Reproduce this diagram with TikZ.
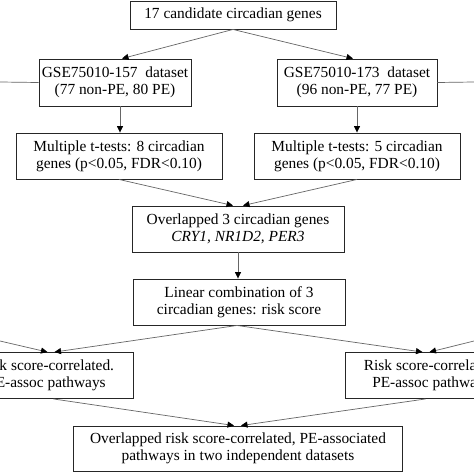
\documentclass[tikz,border=0pt]{standalone}
\usepackage{fontspec}
\setmainfont{Liberation Serif}
\usetikzlibrary{arrows.meta}
\tikzset{
  box/.style={draw=black!85, line width=0.9pt, fill=white, align=center, inner sep=0pt,
    font=\fontsize{15.4}{17}\selectfont},
  conn/.style={draw=black!60, line width=0.7pt, -{Triangle[length=6.5pt,width=6pt,fill=black,color=black]}},
  plain/.style={draw=black!60, line width=0.7pt}
}
\begin{document}
\begin{tikzpicture}[x=1pt,y=-1pt]
\useasboundingbox (0,0) rectangle (474,474);
\fill[white] (0,0) rectangle (474,474);
\clip (0,0) rectangle (474,474);
\node[box, minimum width=206pt, minimum height=28pt] (A) at (233,15) {17 candidate circadian genes};
\node[box, minimum width=152pt, minimum height=47pt] (B1) at (115,82.5) {GSE75010-157\ \ dataset\\(77 non-PE, 80 PE)};
\node[box, minimum width=160pt, minimum height=47pt] (B2) at (357,82.5) {GSE75010-173\ \ dataset\\(96 non-PE, 77 PE)};
\node[box, minimum width=206pt, minimum height=46pt] (C1) at (119,156) {Multiple t-tests: 8 circadian\\genes (p<0.05, FDR<0.10)};
\node[box, minimum width=206pt, minimum height=46pt] (C2) at (357,156) {Multiple t-tests: 5 circadian\\genes (p<0.05, FDR<0.10)};
\node[box, minimum width=212pt, minimum height=46pt] (D) at (238,229) {Overlapped 3 circadian genes\\\textit{CRY1, NR1D2, PER3}};
\node[box, minimum width=212pt, minimum height=46pt] (E) at (239,302) {Linear combination of 3\\circadian genes: risk score};
\node[box, minimum width=173pt, minimum height=46pt] (F1) at (46.5,375.5) {Risk score-correlated.\\PE-assoc pathways};
\node[box, minimum width=173pt, minimum height=46pt] (F2) at (431.5,375.5) {Risk score-correlated.\\PE-assoc pathways};
\node[box, minimum width=329pt, minimum height=45pt] (G) at (238,448.5) {Overlapped risk score-correlated, PE-associated\\pathways in two independent datasets};
\coordinate (L1) at (0,82);
\coordinate (R1) at (474,82);
\coordinate (L2) at (0,341);
\coordinate (R2) at (474,341);
\draw[conn] (A.south) -- ([xshift=7pt]B1.north);
\draw[conn] (A.south) -- ([xshift=-4pt]B2.north);
\draw[plain] (L1) -- (B1.west);
\draw[plain] (B2.east) -- (R1);
\draw[conn] ([xshift=5pt]B1.south) -- ([xshift=1pt]C1.north);
\draw[conn] (B2.south) -- (C2.north);
\draw[conn] (C1.south) -- ([xshift=-5pt]D.north);
\draw[conn] (C2.south) -- ([xshift=5pt]D.north);
\draw[conn] (D.south) -- ([xshift=-1pt]E.north);
\draw[conn] ([xshift=-2pt]E.south) -- ([xshift=8pt]F1.north);
\draw[conn] (L2) -- ([xshift=1pt]F1.north);
\draw[conn] ([xshift=-2pt]E.south) -- ([xshift=-9pt]F2.north);
\draw[conn] (R2) -- ([xshift=-2pt]F2.north);
\draw[conn] ([xshift=7pt]F1.south) -- ([xshift=-4pt]G.north);
\draw[conn] ([xshift=-6pt]F2.south) -- ([xshift=3pt]G.north);
\end{tikzpicture}
\end{document}
